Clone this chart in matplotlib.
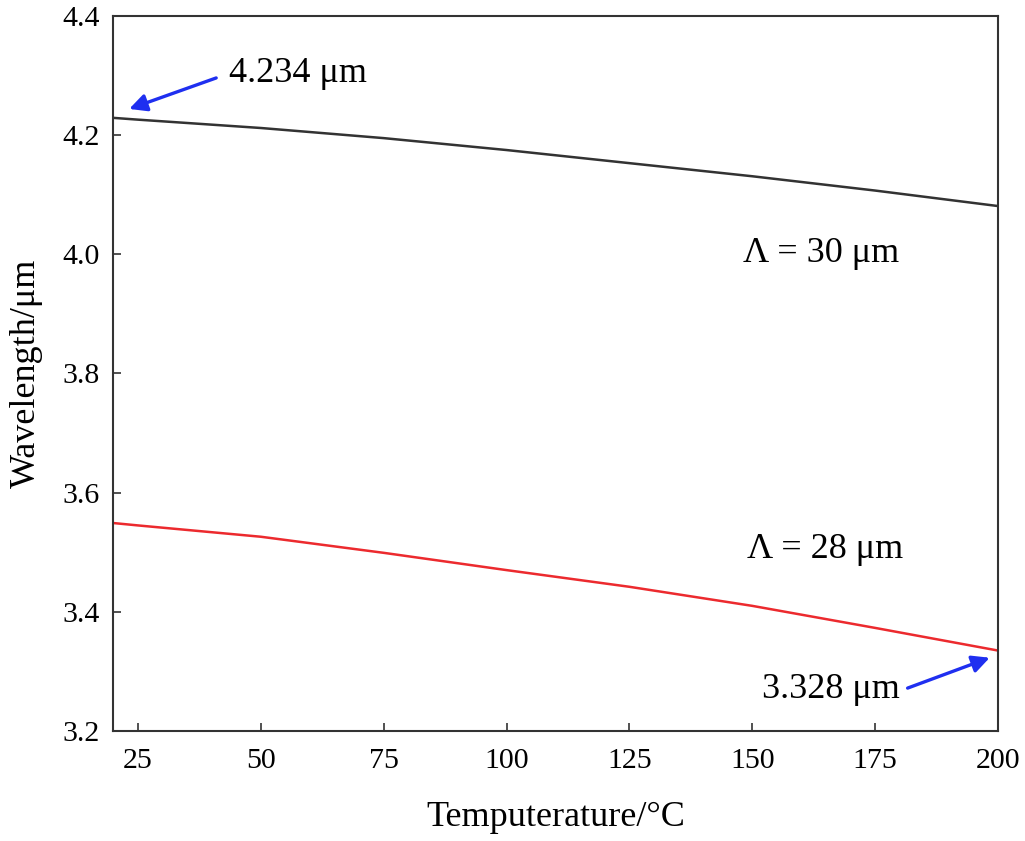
import matplotlib
matplotlib.use("Agg")
import matplotlib.pyplot as plt
import numpy as np

temps = [20, 25, 50, 75, 100, 125, 150, 175, 200]
wl_30 = [4.229, 4.226, 4.212, 4.195, 4.175, 4.153, 4.131, 4.107, 4.081]
wl_28 = [3.549, 3.545, 3.526, 3.499, 3.470, 3.442, 3.410, 3.373, 3.335]

xticks = [25, 50, 75, 100, 125, 150, 175, 200]
yticks = [3.2, 3.4, 3.6, 3.8, 4.0, 4.2, 4.4]

plt.rcParams['font.family'] = ['Liberation Serif', 'DejaVu Serif']

fig = plt.figure(figsize=(10.25, 8.41), dpi=100)
ax = fig.add_axes([0.1107, 0.1308, 0.9737 - 0.1107, 0.981 - 0.1308])

ax.plot(temps, wl_30, color='#333333', lw=1.8)
ax.plot(temps, wl_28, color='#ec2a2e', lw=1.8)

ax.set_xlim(20, 200)
ax.set_ylim(3.2, 4.4)
ax.set_xticks(xticks)
ax.set_yticks(yticks)
ax.set_yticklabels([f"{v:.1f}" for v in yticks])
ax.tick_params(direction='in', length=6, width=1.2, labelsize=21.5, color='#333333')
ax.tick_params(axis='x', pad=12)
ax.tick_params(axis='y', pad=10)
for s in ax.spines.values():
    s.set_linewidth(1.5)
    s.set_color('#333333')

ax.set_xlabel('Temputerature/°C', fontsize=26, labelpad=20)
ax.set_ylabel('Wavelength/μm', fontsize=26, labelpad=14)

arrow = dict(arrowstyle='-|>', color='#1f2ff0', lw=2.4, mutation_scale=26,
             shrinkA=0, shrinkB=0)
ax.annotate('', xy=(23.2, 4.244), xytext=(40.9, 4.296), arrowprops=arrow)
ax.annotate('', xy=(198.3, 3.323), xytext=(181.6, 3.272), arrowprops=arrow)
ax.text(43.5, 4.304, '4.234 μm', fontsize=26, ha='left', va='center')
ax.text(180.0, 3.270, '3.328 μm', fontsize=26, ha='right', va='center')
ax.text(163.9, 4.002, 'Λ = 30 μm', fontsize=26, ha='center', va='center')
ax.text(164.9, 3.504, 'Λ = 28 μm', fontsize=26, ha='center', va='center')

fig.savefig('out.png', dpi=100, facecolor='white')
